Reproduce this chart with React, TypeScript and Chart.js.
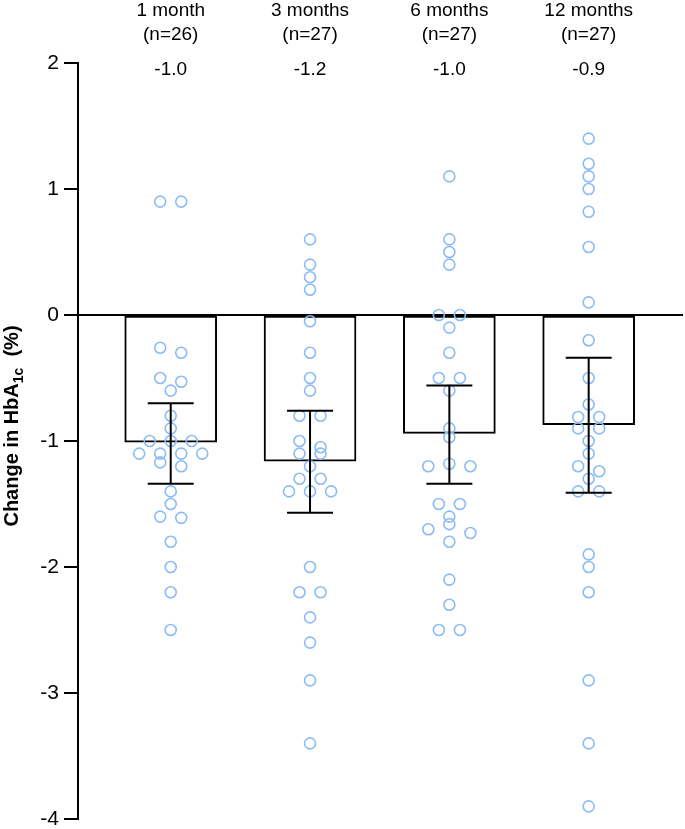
import React, { useEffect, useRef } from "react";
import { Chart, registerables } from "chart.js";

Chart.register(...registerables);

const categories = ["1 month", "3 months", "6 months", "12 months"];
const sampleSizes = ["(n=26)", "(n=27)", "(n=27)", "(n=27)"];
const meanLabels = ["-1.0", "-1.2", "-1.0", "-0.9"];

// bar height = mean change, whiskers = 95% CI
const meanChange = [-1.01, -1.16, -0.94, -0.87];
const ciUpper = [-0.7, -0.76, -0.56, -0.34];
const ciLower = [-1.34, -1.57, -1.34, -1.41];

// individual patients
const change1m = [
  0.9, 0.9, -0.26, -0.3, -0.5, -0.53, -0.6, -0.8, -0.9, -1.0, -1.0, -1.0, -1.1,
  -1.1, -1.1, -1.1, -1.17, -1.2, -1.4, -1.5, -1.6, -1.61, -1.8, -2.0, -2.2, -2.5,
];
const change3m = [
  0.6, 0.4, 0.3, 0.2, -0.05, -0.3, -0.5, -0.6, -0.8, -0.8, -1.0, -1.05, -1.1,
  -1.1, -1.2, -1.3, -1.3, -1.4, -1.4, -1.4, -2.0, -2.2, -2.2, -2.4, -2.6, -2.9,
  -3.4,
];
const change6m = [
  1.1, 0.6, 0.5, 0.4, 0.0, 0.0, -0.1, -0.3, -0.5, -0.5, -0.6, -0.9, -0.97,
  -1.18, -1.2, -1.2, -1.5, -1.5, -1.6, -1.66, -1.7, -1.73, -1.8, -2.1, -2.3,
  -2.5, -2.5,
];
const change12m = [
  1.4, 1.2, 1.1, 1.0, 0.82, 0.54, 0.1, -0.2, -0.5, -0.71, -0.81, -0.81, -0.9,
  -0.9, -1.0, -1.1, -1.2, -1.24, -1.3, -1.4, -1.4, -1.9, -2.0, -2.2, -2.9, -3.4,
  -3.9,
];

const groups = [change1m, change3m, change6m, change12m];

const SWARM_STEP = 0.151; // x units between neighbouring dots in a row

// simple beeswarm: values in the same 0.1 row are spread out symmetrically
function swarm(values: number[], center: number) {
  const rows = new Map<number, number[]>();
  values.forEach((v) => {
    const k = Math.round(v * 10);
    if (!rows.has(k)) rows.set(k, []);
    rows.get(k)!.push(v);
  });
  const pts: { x: number; y: number }[] = [];
  rows.forEach((row) => {
    row.sort((a, b) => b - a);
    const n = row.length;
    const slots = Array.from({ length: n }, (_, i) => i - (n - 1) / 2).sort(
      (a, b) => Math.abs(a) - Math.abs(b) || a - b
    );
    row.forEach((v, i) => pts.push({ x: center + slots[i] * SWARM_STEP, y: v }));
  });
  return pts;
}

const FONT = '"Liberation Sans", Arial, sans-serif';

const annotate = {
  id: "annotate",
  afterDatasetsDraw(chart: any) {
    const { ctx } = chart;
    const x = chart.scales.x;
    const y = chart.scales.y;
    ctx.save();

    // error bars
    ctx.strokeStyle = "#000";
    ctx.lineWidth = 2;
    meanChange.forEach((_, i) => {
      const px = x.getPixelForValue(i + 1);
      const top = y.getPixelForValue(ciUpper[i]);
      const bot = y.getPixelForValue(ciLower[i]);
      ctx.beginPath();
      ctx.moveTo(px, top);
      ctx.lineTo(px, bot);
      ctx.moveTo(px - 23, top);
      ctx.lineTo(px + 23, top);
      ctx.moveTo(px - 23, bot);
      ctx.lineTo(px + 23, bot);
      ctx.stroke();
    });

    // labels above the bars
    ctx.fillStyle = "#000";
    ctx.font = `19px ${FONT}`;
    ctx.textAlign = "center";
    ctx.textBaseline = "alphabetic";
    categories.forEach((c, i) => {
      const px = x.getPixelForValue(i + 1);
      ctx.fillText(c, px, 16);
      ctx.fillText(sampleSizes[i], px, 39.5);
      ctx.fillText(meanLabels[i], px, 75);
    });

    // y axis title with subscript
    const main = "Change in HbA";
    const sub = "1c";
    const tail = "  (%)";
    ctx.font = `bold 20px ${FONT}`;
    const w1 = ctx.measureText(main).width;
    const w3 = ctx.measureText(tail).width;
    ctx.font = `bold 14px ${FONT}`;
    const w2 = ctx.measureText(sub).width;
    const total = w1 + w2 + w3;
    ctx.translate(18, 426);
    ctx.rotate(-Math.PI / 2);
    ctx.textAlign = "left";
    let cx = -total / 2;
    ctx.font = `bold 20px ${FONT}`;
    ctx.fillText(main, cx, 0);
    cx += w1;
    ctx.font = `bold 14px ${FONT}`;
    ctx.fillText(sub, cx, 5);
    cx += w2;
    ctx.font = `bold 20px ${FONT}`;
    ctx.fillText(tail, cx, 0);

    ctx.restore();
  },
};

const HbA1cChart: React.FC = () => {
  const canvasRef = useRef<HTMLCanvasElement | null>(null);
  const chartRef = useRef<Chart | null>(null);

  useEffect(() => {
    if (!canvasRef.current) return;
    if (chartRef.current) chartRef.current.destroy();

    const points = groups.flatMap((g, i) => swarm(g, i + 1));

    chartRef.current = new Chart(canvasRef.current, {
      type: "bar",
      data: {
        datasets: [
          {
            type: "scatter",
            data: points,
            pointRadius: 5.5,
            pointBorderWidth: 1.6,
            borderColor: "#8cbcf5",
            backgroundColor: "rgba(0,0,0,0)",
            order: 1,
          } as any,
          {
            type: "bar",
            data: meanChange.map((m, i) => ({ x: i + 1, y: m })),
            barThickness: 92,
            backgroundColor: "#fff",
            borderColor: "#000",
            borderWidth: 2,
            borderSkipped: false,
            order: 2,
          },
        ],
      },
      options: {
        responsive: false,
        animation: false,
        layout: { autoPadding: false, padding: { left: 0, right: 2, top: 63, bottom: 10 } },
        plugins: { legend: { display: false }, tooltip: { enabled: false } },
        scales: {
          x: {
            type: "linear",
            display: false,
            offset: false,
            min: 0.3345,
            max: 4.677,
            ticks: { display: false },
          },
          y: {
            min: -4,
            max: 2,
            afterFit: (scale: any) => {
              scale.width = 78;
              scale.paddingTop = 0;
              scale.paddingBottom = 0;
            },
            ticks: {
              stepSize: 1,
              padding: 5,
              color: "#000",
              font: { family: FONT, size: 21 },
            },
            grid: {
              color: (c: any) => (c.tick && c.tick.value === 0 ? "#000" : "rgba(0,0,0,0)"),
              tickColor: "#000",
              lineWidth: 2,
              tickWidth: 2,
              tickLength: 14,
            },
            border: { display: true, color: "#000", width: 2 },
          },
        },
      },
      plugins: [annotate],
    });

    return () => {
      if (chartRef.current) {
        chartRef.current.destroy();
        chartRef.current = null;
      }
    };
  }, []);

  return (
    <div style={{ position: "absolute", left: 0, top: 0, width: 685, height: 829, background: "#fff" }}>
      <canvas ref={canvasRef} width={685} height={829} style={{ display: "block" }} />
    </div>
  );
};

export default function App() {
  return <HbA1cChart />;
}
